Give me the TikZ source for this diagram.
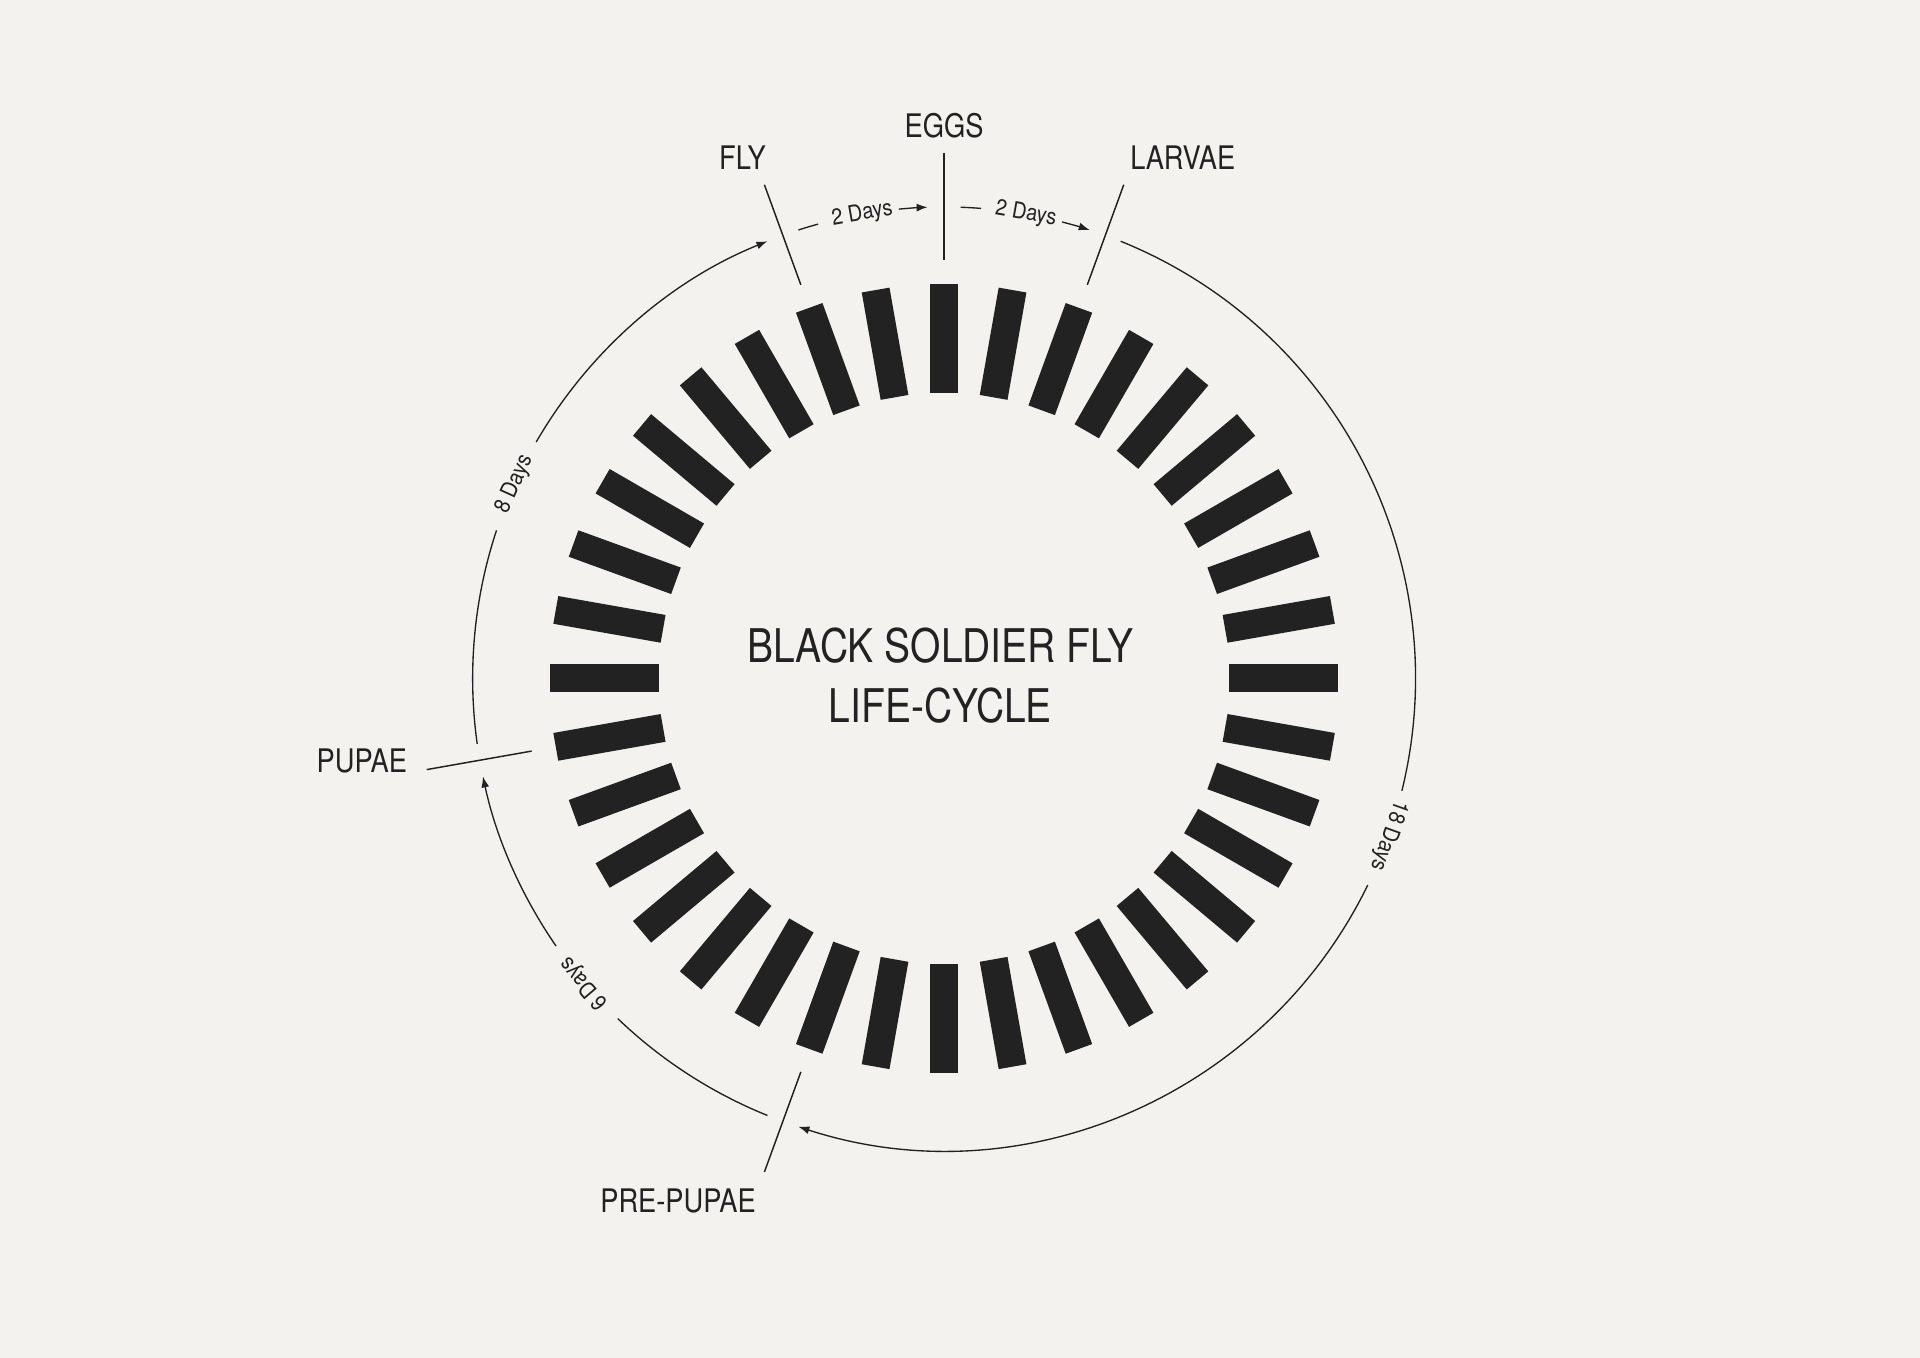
\documentclass[tikz,border=0pt]{standalone}
\usepackage{fontspec}
\setmainfont{TeX Gyre Heros}[FakeStretch=0.84]
\newfontfamily\dayfont{TeX Gyre Heros}[FakeStretch=0.88]
\usetikzlibrary{arrows.meta}
\definecolor{paper}{HTML}{F3F2EE}
\definecolor{ink}{HTML}{222222}

\begin{document}
\begin{tikzpicture}[x=1pt,y=1pt,
		bar/.style={fill=ink},
		ring/.style={draw=ink,line width=1.1pt},
		tick/.style={draw=ink,line width=1.2pt},
		stage/.style={text=ink,font=\fontsize{26.5}{32}\selectfont,anchor=base,inner sep=0pt},
		days/.style={text=ink,font=\dayfont\fontsize{18.5}{20}\selectfont,inner sep=0pt},
		head/.style={-{Latex[length=9pt,width=6.5pt]}}]
		\fill[paper] (-771,-555) rectangle (797,554);
		\useasboundingbox (-771,-555) rectangle (797,554);
		% spokes
		\foreach \a in {0,10,...,350}
			\fill[bar,rotate=\a] (233,-11.5) rectangle (322,11.5);
		% stage ticks
		\foreach \a/\n in {90/eggs,70/larvae,250/prepupae,190/pupae,110/fly}
			\draw[tick] (\a:342pt) coordinate (\n-in) -- (\a:429pt) coordinate (\n-out);
		% stage names
		\node[stage] (eggs) at (0,442) {EGGS};
		\node[stage] (larvae) at (194.9,415.4) {LARVAE};
		\node[stage] (prepupae) at (-217.3,-436.3) {PRE-PUPAE};
		\node[stage] (pupae) at (-475.5,-77) {PUPAE};
		\node[stage] (fly) at (-164.6,415.4) {FLY};
		\node[text=ink,font=\fontsize{37.9}{49}\selectfont,align=center,inner sep=0pt] (title) at (-3,2.5) {BLACK SOLDIER FLY\\LIFE-CYCLE};
		% fly to eggs
		\draw[ring] (108:385pt) arc[start angle=108,end angle=105.5,radius=385pt];
		\node[days,rotate=10] (fly-eggs) at (100:385pt) {2 Days};
		\draw[ring,head] (95.5:385pt) arc[start angle=95.5,end angle=92,radius=385pt];
		% eggs to larvae
		\draw[ring] (88:385pt) arc[start angle=88,end angle=85.5,radius=385pt];
		\node[days,rotate=-10] (eggs-larvae) at (80:385pt) {2 Days};
		\draw[ring,head] (75.5:385pt) arc[start angle=75.5,end angle=72,radius=385pt];
		% larvae to pre-pupae
		\draw[ring] (68:385pt) arc[start angle=68,end angle=-13.8,radius=385pt];
		\node[days,rotate=-109.5] (larvae-prepupae) at (-19.5:385pt) {18 Days};
		\draw[ring,head] (-26:385pt) arc[start angle=-26,end angle=-108,radius=385pt];
		% pre-pupae to pupae
		\draw[ring] (248:385pt) arc[start angle=248,end angle=226.2,radius=385pt];
		\node[days,rotate=130.3] (prepupae-pupae) at (220.3:385pt) {6 Days};
		\draw[ring,head] (214.6:385pt) arc[start angle=214.6,end angle=192,radius=385pt];
		% pupae to fly
		\draw[ring] (188:385pt) arc[start angle=188,end angle=161.7,radius=385pt];
		\node[days,rotate=65.7] (pupae-fly) at (155.7:385pt) {8 Days};
		\draw[ring,head] (149.9:385pt) arc[start angle=149.9,end angle=112,radius=385pt];
\end{tikzpicture}
\end{document}
